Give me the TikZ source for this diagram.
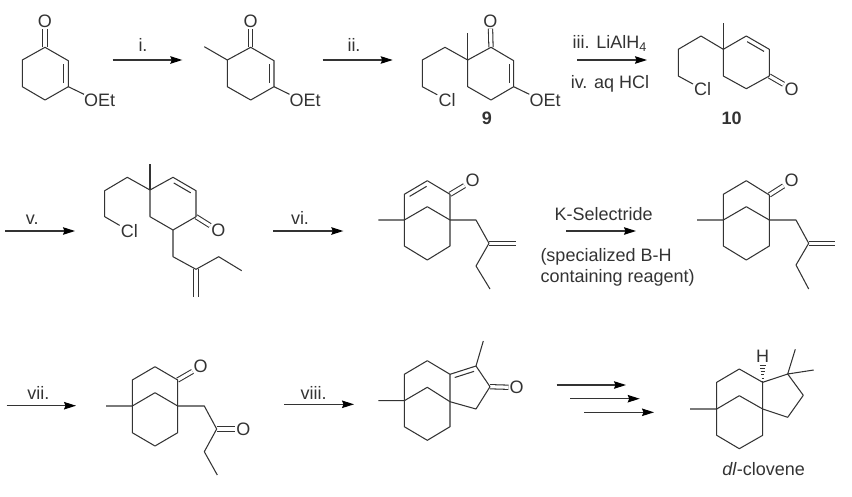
\documentclass[tikz,border=0pt]{standalone}
\usepackage{fontspec}
\setmainfont{Liberation Sans}
\usetikzlibrary{arrows.meta,calc}
\definecolor{inkcol}{gray}{0.2}
\newcommand{\innerbond}[2]{\draw[bond,shorten >=3.5pt,shorten <=3.5pt] ($(#1)!4.5pt!90:(#2)$) -- ($(#2)!4.5pt!-90:(#1)$);}
\begin{document}
\begin{tikzpicture}
    [
    x=1pt,
    y=-1pt,
    bond/.style={
      draw=inkcol,
      line width=1.05pt,
      line join=round
    },
    dbl/.style={
      bond,
      double=white,
      double distance=3.2pt
    },
    rxn/.style={
      draw=inkcol,
      line width=1.1pt,
      -{Stealth[length=12pt,width=7.5pt,inset=1.5pt,color=black]}
    },
    atom/.style={
      font=\fontsize{18}{20}\selectfont,
      text=inkcol,
      inner sep=1pt
    },
    lab/.style={
      font=\fontsize{18}{20}\selectfont,
      text=inkcol,
      inner sep=0pt,
      anchor=base
    },
    num/.style={
      lab,
      font=\fontsize{18}{20}\selectfont\bfseries
    }
    ]
    \useasboundingbox (0,0) rectangle (852,496);

    \foreach \name/\x/\y in {
      a1/45/47.3, a2/68.3/60.7, a3/68.3/86.7, a4/45/100, a5/22.3/86.7, a6/22.3/60,
      b1/250.7/47.3, b2/274/60.7, b3/274/86.7, b4/250.7/100, b5/227.3/86.7, b6/227.3/60, b7/204.3/46.7,
      c1/491/47.3, c2/513.7/60.7, c3/513.7/86.7, c4/491/100, c5/467.7/86.7, c6/467.7/60, c7/467.7/33.3,
      c8/445/47.3, c9/422.3/60, c10/422.3/86.7,
      d1/723.3/49.3, d2/746.3/36, d3/769.3/49.3, d4/769.3/76, d5/746.3/88.7, d6/723.3/76, d7/723.3/23.3,
      d8/701/36, d9/678.3/49.3, d10/678.3/76,
      e1/150/190, e2/173/177.3, e3/196/190.7, e4/196/216.7, e5/173/230, e6/150/216.7, e7/150/164,
      e8/127.3/177.3, e9/104.7/190.7, e10/104.7/216.7,
      e11/173/256.7, e12/196/269.3, e13/196/296.7, e14/218.7/256.7, e15/241.7/270.7,
      f1/450/194.3, f2/427.3/180.7, f3/404.3/194.3, f4/404.3/220, f5/378.3/220, f6/404.3/246,
      f7/427.3/260, f8/450/246, f9/450/220, f10/427.3/206.7,
      f11/476/220, f12/489/243.3, f13/516/243.3, f14/476/266, f15/490/289,
      g1/769.3/195, g2/746.3/180.7, g3/723.3/194.3, g4/723.3/220, g5/697/220, g6/723.3/246,
      g7/746.3/260, g8/769.3/246, g9/769.3/220, g10/746.3/206.7,
      g11/796/220, g12/808.7/243.3, g13/835.3/243.3, g14/796/265, g15/808.7/289,
      h1/177.7/380, h2/155/366.7, h3/132.3/380, h4/132.3/406, h5/106/406, h6/132.3/432.7,
      h7/155/446, h8/177.7/432.7, h9/177.7/406, h10/155/392.7,
      h11/204.3/406, h12/216.7/429, h14/204.3/451.7, h15/217.3/475,
      k1/404.3/400.7, k2/378.3/400.7, k3/404.3/374.3, k4/427.3/360.7, k5/450/374.3, k6/476/366,
      k7/483.3/341, k8/490/386.7, k9/476/409, k10/450/401.7, k11/450/426.7, k12/427.3/440.3,
      k13/404.3/426.7, k14/427.3/387.3,
      m1/716.7/409, m2/690/409, m3/716.7/382.3, m4/739.3/369, m5/762.7/382.3, m6/762.7/409,
      m7/739.3/395.7, m8/716.7/435.3, m9/739.3/448.7, m10/762.7/435.3,
      m11/787.7/374, m12/795.3/349.3, m13/813.7/370, m14/803.3/395.3, m15/787.7/417.3,
      m16/762.7/365,
      r1s/112.7/60, r1e/182.3/60, r2s/322.7/60, r2e/392.7/60, r3s/577/60, r3e/647/60,
      r4s/5/231, r4e/75/231, r5s/273.3/231, r5e/343.3/231, r6s/566/231, r6e/636/231,
      r7s/6.7/405.7, r7e/76/405.7, r8s/284.3/404.3, r8e/354/404.3,
      r9s/556.7/385, r9e/626/385, r10s/570.3/398.7, r10e/639.7/398.7, r11s/584/412.3, r11e/654/412.3
    }
      \coordinate (\name) at (\x,\y);

    \node (a0) at (45,21) [atom] {O};
    \node (aoet) at (84,100) [atom,anchor=west,inner sep=0pt] {OEt};
    \node (b0) at (250.7,21) [atom] {O};
    \node (boet) at (289.5,100) [atom,anchor=west,inner sep=0pt] {OEt};
    \node (c0) at (490.3,21) [atom] {O};
    \node (coet) at (529.3,100) [atom,anchor=west,inner sep=0pt] {OEt};
    \node (ccl) at (447,100) [atom] {Cl};
    \node (d0) at (791.7,89) [atom] {O};
    \node (dcl) at (702.7,89.3) [atom] {Cl};
    \node (e0) at (218.3,230.7) [atom] {O};
    \node (ecl) at (129.3,231) [atom] {Cl};
    \node (f0) at (472.7,180.7) [atom] {O};
    \node (g0) at (791.7,180.7) [atom] {O};
    \node (h0) at (200.7,366.7) [atom] {O};
    \node (h13) at (243.3,429) [atom] {O};
    \node (k0) at (516.7,387.5) [atom] {O};
    \node (mh) at (762.5,356) [atom] {H};

    \draw[dbl] (a1) -- (a0);
    \draw[dbl] (b1) -- (b0);
    \draw[dbl] (c1) -- (c0);
    \draw[dbl] (d4) -- (d0);
    \draw[dbl] (e4) -- (e0);
    \draw[dbl] (e12) -- (e13);
    \draw[dbl] (f1) -- (f0);
    \draw[dbl] (f12) -- (f13);
    \draw[dbl] (g1) -- (g0);
    \draw[dbl] (g12) -- (g13);
    \draw[dbl] (h1) -- (h0);
    \draw[dbl] (h12) -- (h13);
    \draw[dbl] (k8) -- (k0);

    \draw[bond] (a1) -- (a2) -- (a3) -- (a4) -- (a5) -- (a6) -- cycle;
    \draw[bond] (a3) -- (aoet.160);
    \innerbond{a3}{a2}

    \draw[bond] (b1) -- (b2) -- (b3) -- (b4) -- (b5) -- (b6) -- cycle;
    \draw[bond] (b6) -- (b7);
    \draw[bond] (b3) -- (boet.160);
    \innerbond{b3}{b2}

    \draw[bond] (c1) -- (c2) -- (c3) -- (c4) -- (c5) -- (c6) -- cycle;
    \draw[bond] (c6) -- (c7);
    \draw[bond] (c6) -- (c8) -- (c9) -- (c10) -- (ccl);
    \draw[bond] (c3) -- (coet.160);
    \innerbond{c3}{c2}

    \draw[bond] (d1) -- (d2) -- (d3) -- (d4) -- (d5) -- (d6) -- cycle;
    \draw[bond] (d1) -- (d7);
    \draw[bond] (d1) -- (d8) -- (d9) -- (d10) -- (dcl);
    \innerbond{d3}{d2}

    \draw[bond] (e1) -- (e2) -- (e3) -- (e4) -- (e5) -- (e6) -- cycle;
    \draw[bond] (e1) -- (e7);
    \draw[bond] (e1) -- (e8) -- (e9) -- (e10) -- (ecl);
    \draw[bond] (e5) -- (e11) -- (e12) -- (e14) -- (e15);
    \innerbond{e3}{e2}

    \draw[bond] (f1) -- (f2) -- (f3) -- (f4) -- (f6) -- (f7) -- (f8) -- (f9) -- cycle;
    \draw[bond] (f5) -- (f4) -- (f10) -- (f9);
    \draw[bond] (f9) -- (f11) -- (f12) -- (f14) -- (f15);
    \innerbond{f2}{f3}

    \draw[bond] (g1) -- (g2) -- (g3) -- (g4) -- (g6) -- (g7) -- (g8) -- (g9) -- cycle;
    \draw[bond] (g5) -- (g4) -- (g10) -- (g9);
    \draw[bond] (g9) -- (g11) -- (g12) -- (g14) -- (g15);

    \draw[bond] (h1) -- (h2) -- (h3) -- (h4) -- (h6) -- (h7) -- (h8) -- (h9) -- cycle;
    \draw[bond] (h5) -- (h4) -- (h10) -- (h9);
    \draw[bond] (h9) -- (h11) -- (h12) -- (h14) -- (h15);

    \draw[bond] (k1) -- (k3) -- (k4) -- (k5) -- (k10) -- (k11) -- (k12) -- (k13) -- cycle;
    \draw[bond] (k2) -- (k1) -- (k14) -- (k10);
    \draw[bond] (k5) -- (k6) -- (k8) -- (k9) -- (k10);
    \draw[bond] (k6) -- (k7);
    \innerbond{k6}{k5}

    \draw[bond] (m1) -- (m3) -- (m4) -- (m5) -- (m6) -- (m10) -- (m9) -- (m8) -- cycle;
    \draw[bond] (m2) -- (m1) -- (m7) -- (m6);
    \draw[bond] (m5) -- (m11) -- (m14) -- (m15) -- (m6);
    \draw[bond] (m12) -- (m11) -- (m13);
    \foreach \t/\w in {0.05/0.5,0.24/1,0.43/1.5,0.62/2,0.81/2.5,1/3}
      \draw[draw=inkcol,line width=0.8pt] ($(m5)!\t!(m16)$) +(-\w,0) -- +(\w,0);

    \foreach \s/\e in {r1s/r1e,r2s/r2e,r3s/r3e,r4s/r4e,r5s/r5e,r6s/r6e,r7s/r7e,r8s/r8e,r9s/r9e,r10s/r10e,r11s/r11e}
      \draw[rxn] (\s) -- (\e);

    \node (l1) at (143,51.7) [lab] {i.};
    \node (l2) at (354,51.7) [lab] {ii.};
    \node (l3) at (609.8,48.3) [lab] {iii. LiAlH\textsubscript{4}};
    \node (l4) at (610,88.3) [lab] {iv. aq HCl};
    \node (l5) at (32.3,224.3) [lab] {v.};
    \node (l6) at (300,224.3) [lab] {vi.};
    \node (l7) at (603.7,220) [lab] {K-Selectride};
    \node (l8) at (540.3,261.5) [lab,anchor=base west] {(specialized B-H};
    \node (l9) at (540.3,282.3) [lab,anchor=base west] {containing reagent)};
    \node (l10) at (38.3,399) [lab] {vii.};
    \node (l11) at (313.7,399) [lab] {viii.};
    \node (n9) at (487,124) [num] {9};
    \node (n10) at (731.7,124) [num] {10};
    \node (nclov) at (763.7,475.7) [lab] {\textit{dl}-clovene};
  \end{tikzpicture}
\end{document}
